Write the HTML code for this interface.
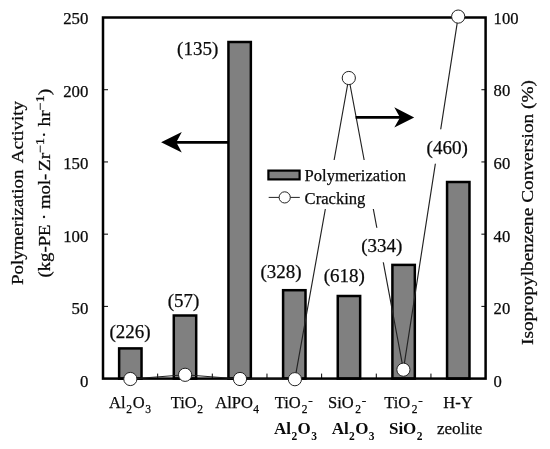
<!DOCTYPE html>
<html lang="en"><head><meta charset="utf-8"><title>Polymerization activity and cracking</title>
<style>html,body{margin:0;padding:0;background:#fff;}body{width:550px;height:449px;overflow:hidden;}svg{display:block;}text{font-family:"Liberation Serif","DejaVu Serif",serif;fill:#0a0a0a;stroke:#0a0a0a;stroke-width:0.25px;}text.b{stroke-width:0;}</style></head><body>
<svg width="550" height="449" viewBox="0 0 550 449">
<rect x="0" y="0" width="550" height="449" fill="#ffffff"/>
<rect x="119.13" y="348.40" width="22.40" height="30.20" fill="#808080" stroke="#000" stroke-width="2.5"/>
<rect x="173.79" y="315.50" width="22.40" height="63.10" fill="#808080" stroke="#000" stroke-width="2.5"/>
<rect x="228.44" y="42.00" width="22.40" height="336.60" fill="#808080" stroke="#000" stroke-width="2.5"/>
<rect x="283.10" y="290.20" width="22.40" height="88.40" fill="#808080" stroke="#000" stroke-width="2.5"/>
<rect x="337.76" y="296.00" width="22.40" height="82.60" fill="#808080" stroke="#000" stroke-width="2.5"/>
<rect x="392.41" y="264.90" width="22.40" height="113.70" fill="#808080" stroke="#000" stroke-width="2.5"/>
<rect x="447.07" y="182.00" width="22.40" height="196.60" fill="#808080" stroke="#000" stroke-width="2.5"/>
<rect x="103.00" y="17.50" width="382.60" height="361.10" fill="none" stroke="#000" stroke-width="2.5"/>
<path d="M103.00 89.72h5 M485.60 89.72h-4.2 M103.00 161.94h5 M485.60 161.94h-4.2 M103.00 234.16h5 M485.60 234.16h-4.2 M103.00 306.38h5 M485.60 306.38h-4.2 M157.66 378.60v-5 M212.31 378.60v-5 M266.97 378.60v-5 M321.63 378.60v-5 M376.29 378.60v-5 M430.94 378.60v-5" stroke="#000" stroke-width="1" fill="none"/>
<polyline points="130.33,379.00 185.10,374.80 240.00,379.00 294.90,379.20 348.80,78.00 403.40,369.70 458.20,16.60" fill="none" stroke="#222" stroke-width="1.15"/>
<rect x="262" y="160" width="148" height="49" fill="#fff"/>
<rect x="268.4" y="170.6" width="31.2" height="8.8" fill="#808080" stroke="#000" stroke-width="2.2"/>
<path d="M268.7 197.4H299.8" stroke="#222" stroke-width="1"/>
<circle cx="284.7" cy="197.4" r="5.6" fill="#fff" stroke="#222" stroke-width="1"/>
<text x="304.6" y="180.5" font-size="16.6">Polymerization</text>
<text x="304.6" y="203.8" font-size="16.6">Cracking</text>
<rect x="424" y="129.3" width="46" height="34.4" fill="#fff"/>
<rect x="359" y="227.8" width="46" height="34.5" fill="#fff"/>
<circle cx="130.33" cy="379.00" r="6.6" fill="#fff" stroke="#222" stroke-width="1"/>
<circle cx="185.10" cy="374.80" r="6.6" fill="#fff" stroke="#222" stroke-width="1"/>
<circle cx="240.00" cy="379.00" r="6.6" fill="#fff" stroke="#222" stroke-width="1"/>
<circle cx="294.90" cy="379.20" r="6.6" fill="#fff" stroke="#222" stroke-width="1"/>
<circle cx="348.80" cy="78.00" r="6.6" fill="#fff" stroke="#222" stroke-width="1"/>
<circle cx="403.40" cy="369.70" r="6.6" fill="#fff" stroke="#222" stroke-width="1"/>
<circle cx="458.20" cy="16.60" r="6.6" fill="#fff" stroke="#222" stroke-width="1"/>
<path d="M228 142.3H176" stroke="#000" stroke-width="2.8" fill="none"/>
<path d="M161.1 142.3L181.8 132.1L176.3 142.3L181.8 152.6Z" fill="#000"/>
<path d="M355.6 117.4H400" stroke="#000" stroke-width="2.8" fill="none"/>
<path d="M414.2 117.4L394.3 107.3L400 117.4L394.3 127.6Z" fill="#000"/>
<text x="130.1" y="338.3" font-size="19" text-anchor="middle">(226)</text>
<text x="183.6" y="306.6" font-size="19" text-anchor="middle">(57)</text>
<text x="197.7" y="54.6" font-size="19" text-anchor="middle">(135)</text>
<text x="281.1" y="278.4" font-size="19" text-anchor="middle">(328)</text>
<text x="344.3" y="282.3" font-size="19" text-anchor="middle">(618)</text>
<text x="381.8" y="252.2" font-size="19" text-anchor="middle">(334)</text>
<text x="447.2" y="153.8" font-size="19" text-anchor="middle">(460)</text>
<text x="88.4" y="23.9" font-size="16.8" text-anchor="end">250</text>
<text x="88.4" y="96.5" font-size="16.8" text-anchor="end">200</text>
<text x="88.4" y="169.0" font-size="16.8" text-anchor="end">150</text>
<text x="88.4" y="241.6" font-size="16.8" text-anchor="end">100</text>
<text x="88.4" y="314.1" font-size="16.8" text-anchor="end">50</text>
<text x="88.4" y="386.7" font-size="16.8" text-anchor="end">0</text>
<text x="493.6" y="23.8" font-size="16.6">100</text>
<text x="493.6" y="96.4" font-size="16.6">80</text>
<text x="493.6" y="168.9" font-size="16.6">60</text>
<text x="493.6" y="241.5" font-size="16.6">40</text>
<text x="493.6" y="314.0" font-size="16.6">20</text>
<text x="493.6" y="386.6" font-size="16.6">0</text>
<text transform="translate(22.6 285) rotate(-90)" font-size="16.8" textLength="115.4" lengthAdjust="spacingAndGlyphs">Polymerization</text>
<text transform="translate(22.6 163.2) rotate(-90)" font-size="16.8" textLength="62.3" lengthAdjust="spacingAndGlyphs">Activity</text>
<text transform="translate(49.6 277.5) rotate(-90)" font-size="16.8" textLength="103.8" lengthAdjust="spacingAndGlyphs">(kg-PE · mol-</text>
<text transform="translate(49.6 171.3) rotate(-90)" font-size="16.8" textLength="82.6" lengthAdjust="spacingAndGlyphs">Zr<tspan font-size="12" dy="-6">−1</tspan><tspan dy="6">· hr</tspan><tspan font-size="12" dy="-6">−1</tspan><tspan dy="6">)</tspan></text>
<text transform="translate(533.2 345) rotate(-90)" font-size="17" textLength="265" lengthAdjust="spacingAndGlyphs">Isopropylbenzene Conversion (%)</text>
<text x="130.0" y="407.9" font-size="16.5" text-anchor="middle">Al<tspan font-size="11.5" dy="5.5" dx="0.7">2</tspan><tspan dy="-5.5" dx="0.7">O</tspan><tspan font-size="11.5" dy="5.5" dx="0.7">3</tspan></text>
<text x="186.9" y="407.9" font-size="16.5" text-anchor="middle">TiO<tspan font-size="11.5" dy="5.5" dx="0.6">2</tspan></text>
<text x="237.2" y="407.9" font-size="16.5" text-anchor="middle">AlPO<tspan font-size="11.5" dy="5.5" dx="0.4">4</tspan></text>
<text x="293.8" y="407.9" font-size="16.5" text-anchor="middle">TiO<tspan font-size="11.5" dy="5.5" dx="1.0">2</tspan><tspan font-size="13.5" dy="-8.0" dx="0.8">-</tspan></text>
<text x="347.2" y="407.9" font-size="16.5" text-anchor="middle">SiO<tspan font-size="11.5" dy="5.5" dx="1.6">2</tspan><tspan font-size="13.5" dy="-8.0" dx="0.8">-</tspan></text>
<text x="403.5" y="407.9" font-size="16.5" text-anchor="middle">TiO<tspan font-size="11.5" dy="5.5" dx="1.6">2</tspan><tspan font-size="13.5" dy="-8.0" dx="0.8">-</tspan></text>
<text x="457.9" y="407.9" font-size="16.5" text-anchor="middle">H-Y</text>
<text x="295.5" y="434" font-size="17" font-weight="bold" class="b" text-anchor="middle">Al<tspan font-size="11.5" dy="5.5" dx="0.4">2</tspan><tspan dy="-5.5" dx="0.4">O</tspan><tspan font-size="11.5" dy="5.5" dx="0.4">3</tspan></text>
<text x="353.1" y="434" font-size="17" font-weight="bold" class="b" text-anchor="middle">Al<tspan font-size="11.5" dy="5.5" dx="0.4">2</tspan><tspan dy="-5.5" dx="0.4">O</tspan><tspan font-size="11.5" dy="5.5" dx="0.4">3</tspan></text>
<text x="405.7" y="434" font-size="17" font-weight="bold" class="b" text-anchor="middle">SiO<tspan font-size="11.5" dy="5.5" dx="0.4">2</tspan></text>
<text x="459.6" y="434" font-size="17" font-weight="normal" class="n" text-anchor="middle">zeolite</text>
</svg></body></html>
